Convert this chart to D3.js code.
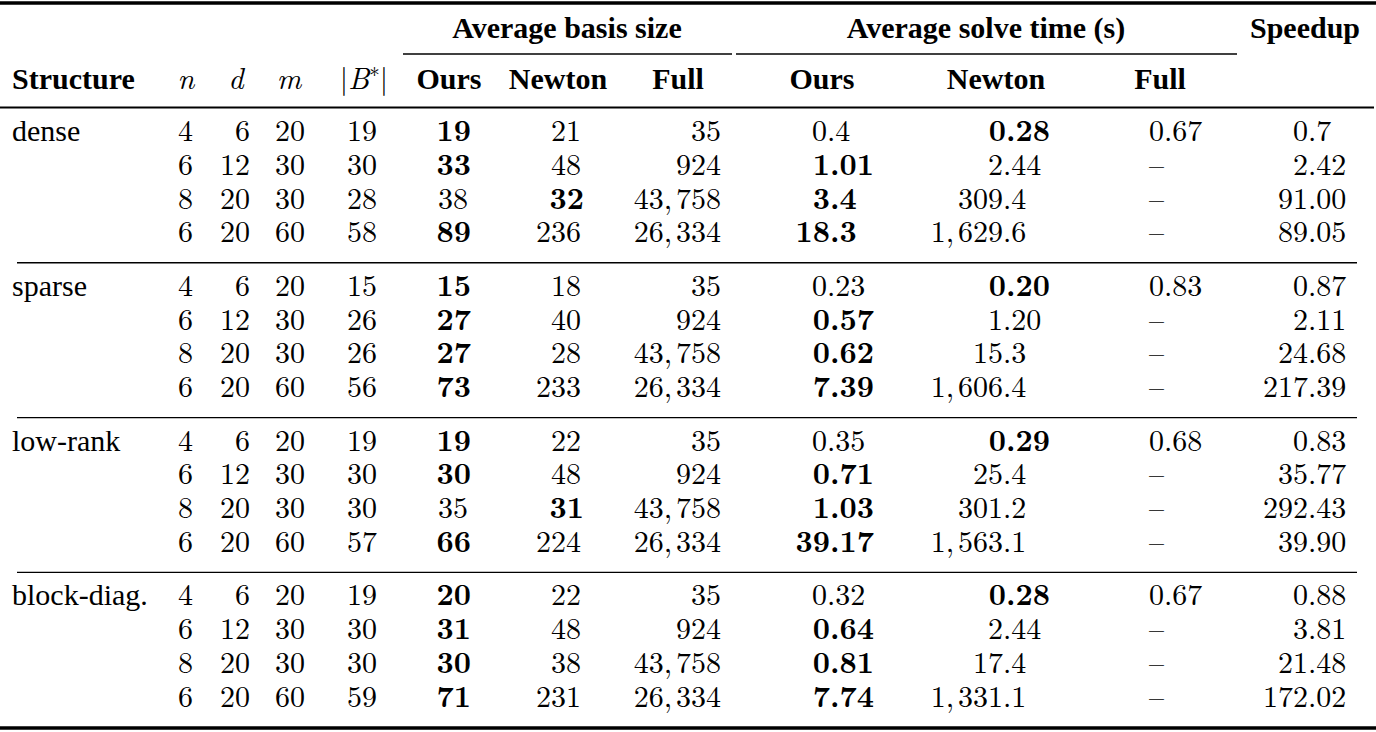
<!DOCTYPE html>
<html>
<head>
<meta charset="utf-8">
<script src="https://cdn.jsdelivr.net/npm/d3@7"></script>
<style>
  html, body { margin: 0; padding: 0; background: #fff; }
  svg { display: block; }
</style>
</head>
<body>
<svg id="chart" width="1376" height="732"></svg>
<script>
// ---------------- DATA ----------------
const structures = ["dense", "sparse", "low-rank", "block-diag."];
const nVals = [4, 6, 8, 6, 4, 6, 8, 6, 4, 6, 8, 6, 4, 6, 8, 6];
const dVals = [6, 12, 20, 20, 6, 12, 20, 20, 6, 12, 20, 20, 6, 12, 20, 20];
const mVals = [20, 30, 30, 60, 20, 30, 30, 60, 20, 30, 30, 60, 20, 30, 30, 60];
const bStar = [19, 30, 28, 58, 15, 26, 26, 56, 19, 30, 30, 57, 19, 30, 30, 59];
const oursBasis = [19, 33, 38, 89, 15, 27, 27, 73, 19, 30, 35, 66, 20, 31, 30, 71];
const newtonBasis = [21, 48, 32, 236, 18, 40, 28, 233, 22, 48, 31, 224, 22, 48, 38, 231];
const fullBasis = ["35", "924", "43,758", "26,334", "35", "924", "43,758", "26,334",
                   "35", "924", "43,758", "26,334", "35", "924", "43,758", "26,334"];
const oursTime = ["0.4", "1.01", "3.4", "18.3", "0.23", "0.57", "0.62", "7.39",
                  "0.35", "0.71", "1.03", "39.17", "0.32", "0.64", "0.81", "7.74"];
const newtonTime = ["0.28", "2.44", "309.4", "1,629.6", "0.20", "1.20", "15.3", "1,606.4",
                    "0.29", "25.4", "301.2", "1,563.1", "0.28", "2.44", "17.4", "1,331.1"];
const fullTime = ["0.67", "–", "–", "–", "0.83", "–", "–", "–",
                  "0.68", "–", "–", "–", "0.67", "–", "–", "–"];
const speedup = ["0.7", "2.42", "91.00", "89.05", "0.87", "2.11", "24.68", "217.39",
                 "0.83", "35.77", "292.43", "39.90", "0.88", "3.81", "21.48", "172.02"];
const groupHeaders = ["Average basis size", "Average solve time (s)", "Speedup"];
const subHeaders = ["Ours", "Newton", "Full", "Ours", "Newton", "Full"];

// ---------------- LAYOUT ----------------
const W = 1376, H = 732;
const TEXTFONT = '"Liberation Serif"';
const MATHFONT = '"Latin Modern Roman"';
const svg = d3.select("#chart");
const FS = 30;
const COMMA_GAP = 4;

const colKeys = ["n", "d", "m", "b", "oursB", "newtonB", "fullB", "oursT", "newtonT", "fullT", "speed"];
const xCol = d3.scaleOrdinal().domain(colKeys)
  .range([193, 250, 305, 377, 468, 581, 721, 827, 1003, 1164, 1308]);

const rowStep = 33.75, groupPeriod = 154.8;
const yRow = d3.scaleLinear().domain([0, 1]).range([141, 141 + rowStep]);
const slot = i => (i % 4) + Math.floor(i / 4) * (groupPeriod / rowStep);

const num = s => (s === "–" ? Infinity : +String(s).replace(/,/g, ""));

// bold = best (minimum) among methods
const boldOursB = oursBasis.map((v, i) => v <= newtonBasis[i]);
const boldNewtonB = newtonBasis.map((v, i) => v < oursBasis[i]);
const tMin = oursTime.map((v, i) => Math.min(num(v), num(newtonTime[i]), num(fullTime[i])));
const boldOursT = oursTime.map((v, i) => num(v) === tMin[i]);
const boldNewtonT = newtonTime.map((v, i) => num(v) === tMin[i]);

function txt(sel, font) {
  return sel.append("text").attr("font-family", font).attr("font-size", FS).attr("fill", "#000");
}

function addInt(t, ip) {
  ip.split(",").forEach((p, k) => {
    if (k > 0) t.append("tspan").text(",");
    t.append("tspan").attr("dx", k > 0 ? COMMA_GAP : 0).text(p);
  });
}

// decimal-aligned cell: integer part ends at x, fraction follows
function cell(x, y, value, bold) {
  const s = String(value);
  const dot = s.indexOf(".");
  const ip = dot >= 0 ? s.slice(0, dot) : s;
  const fp = dot >= 0 ? s.slice(dot) : null;
  const w = bold ? "bold" : "normal";
  const probe = txt(svg, MATHFONT).attr("font-weight", w).attr("opacity", 0).text(ip);
  const iw = probe.node().getComputedTextLength() + (ip.split(",").length - 1) * COMMA_GAP;
  probe.remove();
  const t = txt(svg, MATHFONT).attr("font-weight", w)
    .attr("x", x + (bold ? 3 : 0) - iw).attr("y", y);
  addInt(t, ip);
  if (fp !== null) t.append("tspan").text(fp);
}

// ---------------- RULES ----------------
const rule = (x1, x2, y, w) => svg.append("line")
  .attr("x1", x1).attr("x2", x2).attr("y1", y).attr("y2", y)
  .attr("stroke", "#000").attr("stroke-width", w);
rule(0, W, 3, 3.5);
rule(403, 732, 54, 1.3);
rule(736, 1237, 54, 1.3);
rule(0, 1374, 107.5, 1.8);
for (let gi = 1; gi < structures.length; gi++) {
  rule(17, 1357, yRow(slot(gi * 4 - 1)) + 20.5, 1.3);
}
rule(0, W, 728, 3.5);

// ---------------- HEADERS ----------------
const hdr1X = [567, 986, 1305];
groupHeaders.forEach((h, i) => {
  txt(svg, TEXTFONT).attr("x", hdr1X[i]).attr("y", 38).attr("text-anchor", "middle")
    .attr("font-weight", "bold").text(h);
});
txt(svg, TEXTFONT).attr("x", 12).attr("y", 89).attr("font-weight", "bold").text("Structure");
[["n", 186], ["d", 236], ["m", 289]].forEach(([l, x]) => {
  txt(svg, MATHFONT).attr("x", x).attr("y", 89).attr("text-anchor", "middle")
    .attr("font-style", "italic").text(l);
});
const bt = txt(svg, MATHFONT).attr("x", 364).attr("y", 89).attr("text-anchor", "middle");
bt.append("tspan").text("|");
bt.append("tspan").attr("font-style", "italic").text("B");
bt.append("tspan").attr("font-size", 21).attr("dy", -12).text("∗");
bt.append("tspan").attr("dy", 12).text("|");
const hdr2X = [449, 558, 678, 822, 996, 1160];
subHeaders.forEach((h, i) => {
  txt(svg, TEXTFONT).attr("x", hdr2X[i]).attr("y", 89).attr("text-anchor", "middle")
    .attr("font-weight", "bold").text(h);
});

// ---------------- BODY ----------------
structures.forEach((s, gi) => {
  txt(svg, TEXTFONT).attr("x", 12).attr("y", yRow(slot(gi * 4))).text(s);
});
nVals.forEach((_, i) => {
  const y = yRow(slot(i));
  cell(xCol("n"), y, nVals[i], false);
  cell(xCol("d"), y, dVals[i], false);
  cell(xCol("m"), y, mVals[i], false);
  cell(xCol("b"), y, bStar[i], false);
  cell(xCol("oursB"), y, oursBasis[i], boldOursB[i]);
  cell(xCol("newtonB"), y, newtonBasis[i], boldNewtonB[i]);
  cell(xCol("fullB"), y, fullBasis[i], false);
  cell(xCol("oursT"), y, oursTime[i], boldOursT[i]);
  cell(xCol("newtonT"), y, newtonTime[i], boldNewtonT[i]);
  cell(xCol("fullT"), y, fullTime[i], false);
  cell(xCol("speed"), y, speedup[i], false);
});
</script>
</body>
</html>
